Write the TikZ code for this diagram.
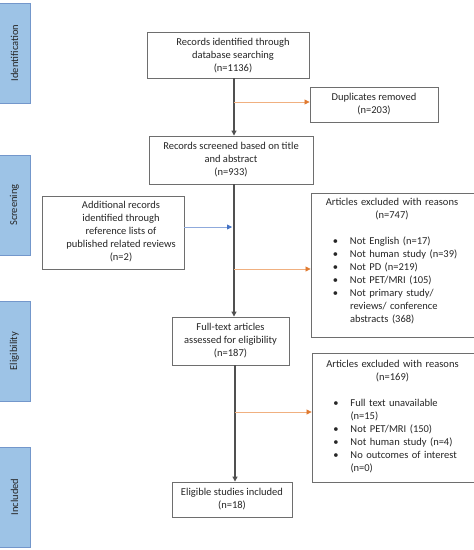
\documentclass[tikz,border=0pt]{standalone}
\usepackage{fontspec}
\setmainfont{Carlito}
\usetikzlibrary{arrows.meta}
\definecolor{barfill}{HTML}{9DC3E6}
\definecolor{barline}{HTML}{7397CB}
\definecolor{boxline}{HTML}{6E6E6E}
\definecolor{trunk}{HTML}{505050}
\definecolor{orl}{HTML}{F0B080}
\definecolor{orh}{HTML}{E07A30}
\definecolor{bll}{HTML}{8FAADC}
\definecolor{blh}{HTML}{4472C4}
\newcommand\bul{\hspace*{36pt}\llap{\textbullet\hspace{12pt}}}
\newcommand\ind{\hspace*{36pt}}
\begin{document}
\begin{tikzpicture}[x=1pt,y=-1pt,
  every node/.style={font=\fontsize{10.5}{13}\selectfont, text=black!85},
  box/.style={draw=boxline, line width=0.9pt, fill=white, align=center, inner sep=0pt},
  sidebar/.style={draw=barline, line width=0.8pt, fill=barfill, rotate=90, minimum width=100pt, minimum height=31pt, inner sep=0pt},
  mainarrow/.style={draw=trunk, line width=1.1pt, -{Triangle[length=5pt,width=5pt]}},
  orarrow/.style={draw=orl, line width=0.8pt, -{Triangle[length=5pt,width=5pt,color=orh]}},
  blarrow/.style={draw=bll, line width=0.8pt, -{Triangle[length=5pt,width=5pt,color=blh]}},
  listtext/.style={text width=156pt, align=left, inner sep=0pt}
]
\useasboundingbox (0,0) rectangle (474,550);
\begin{scope}
\clip (0,0) rectangle (474,550);
% side bars
\node[sidebar] (sid) at (14.5,53) {Identification};
\node[sidebar] (sscr) at (14.5,205) {Screening};
\node[sidebar] (selig) at (14.5,351) {Eligibility};
\node[sidebar] (sinc) at (14.5,497) {Included};

% main boxes
\node[box, minimum width=162pt, minimum height=46pt] (b1) at (228,55) {};
\node[align=center, inner sep=0pt] (b1t) at (233,56) {Records identified through\\database searching\\(n=1136)};
\node[box, minimum width=128pt, minimum height=35pt] (dup) at (374,104.5) {Duplicates removed\\(n=203)};
\node[box, minimum width=164pt, minimum height=48pt] (scr) at (231,160) {Records screened based on title\\and abstract\\(n=933)};
\node[box, minimum width=142pt, minimum height=73pt] (add) at (113,232.5) {};
\node[align=center, inner sep=0pt] (addt) at (121,232) {Additional records\\identified through\\reference lists of\\published related reviews\\(n=2)};
\node[box, minimum width=172pt, minimum height=144pt] (ex1) at (397,265) {};
\node[listtext] (ex1t) at (392,261.5) {\makebox[156pt]{Articles excluded with reasons}\\
\makebox[156pt]{(n=747)}\\
\mbox{}\\
\bul Not English (n=17)\\
\bul Not human study (n=39)\\
\bul Not PD (n=219)\\
\bul Not PET/MRI (105)\\
\bul Not primary study/\\
\ind reviews/ conference\\
\ind abstracts (368)};
\node[box, minimum width=117pt, minimum height=48pt] (ft) at (230.5,341) {Full-text articles\\assessed for eligibility\\(n=187)};
\node[box, minimum width=172pt, minimum height=129pt] (ex2) at (398,417.5) {};
\node[listtext] (ex2t) at (392.5,416.5) {\makebox[156pt]{Articles excluded with reasons}\\
\makebox[156pt]{(n=169)}\\
\mbox{}\\
\bul Full text unavailable\\
\ind (n=15)\\
\bul Not PET/MRI (150)\\
\bul Not human study (n=4)\\
\bul No outcomes of interest\\
\ind (n=0)};
\node[box, minimum width=120pt, minimum height=35pt] (elig) at (232,499.5) {Eligible studies included\\(n=18)};

% trunk arrows
\draw[mainarrow] (b1.south -| 234,0) -- (scr.north -| 234,0);
\draw[mainarrow] (scr.south -| 234,0) -- (ft.north -| 234,0);
\draw[mainarrow] (ft.south -| 235,0) -- (elig.north -| 235,0);

% side arrows
\coordinate (j1) at (234,102);
\coordinate (j2) at (234,269);
\coordinate (j3) at (235,412);
\coordinate (j4) at (232,227);
\draw[orarrow] (j1) -- (j1 -| dup.west);
\draw[orarrow] (j2) -- (j2 -| ex1.west);
\draw[orarrow] (j3) -- (j3 -| ex2.west);
\draw[blarrow] (add.east |- j4) -- (j4);
\end{scope}
\end{tikzpicture}
\end{document}
